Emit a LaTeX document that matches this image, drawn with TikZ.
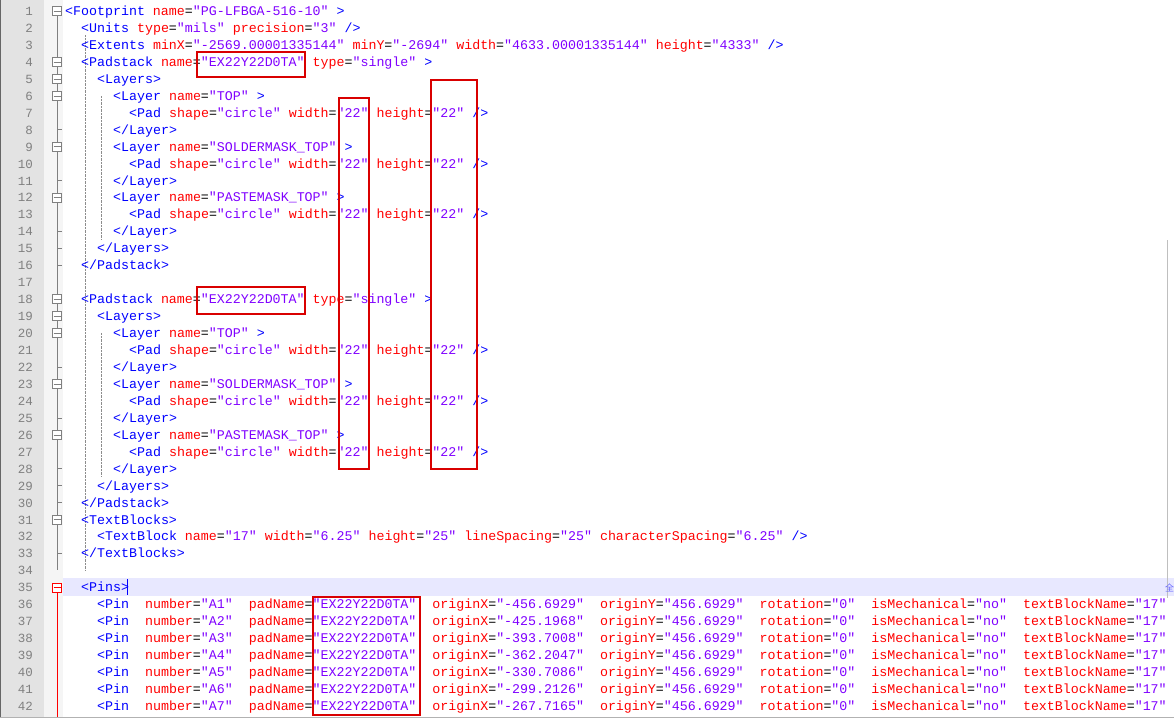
\documentclass[tikz,border=0pt]{standalone}
\usepackage{fontspec}
\newfontfamily\code{Liberation Mono}
\newfontfamily\cjk{Noto Sans CJK SC}
\definecolor{tagc}{RGB}{0,0,255}
\definecolor{attc}{RGB}{255,0,0}
\definecolor{valc}{RGB}{128,0,255}
\definecolor{numc}{RGB}{128,128,128}
\newcommand\tg[1]{\textcolor{tagc}{#1}}
\newcommand\at[1]{\textcolor{attc}{#1}}
\newcommand\vl[1]{\textcolor{valc}{#1}}
\newcommand\padline{\tg{<Pad} \at{shape}=\vl{"circle"} \at{width}=\vl{"22"} \at{height}=\vl{"22"} \tg{/>}}
\newcommand\pinline[2]{\tg{<Pin}~~\at{number}=\vl{"#1"}~~\at{padName}=\vl{"EX22Y22D0TA"}~~\at{originX}=\vl{"#2"}~~\at{originY}=\vl{"456.6929"}~~\at{rotation}=\vl{"0"}~~\at{isMechanical}=\vl{"no"}~~\at{textBlockName}=\vl{"17"}}
\begin{document}
\begin{tikzpicture}[x=1pt,y=-1pt,
  codetxt/.style={anchor=base west,inner sep=0pt,font=\code\fontsize{13.3}{16}\selectfont},
  lnum/.style={anchor=base east,inner sep=0pt,text=numc,font=\code\fontsize{12.5}{15}\selectfont},
  foldbox/.style={draw=numc,fill=white,minimum size=9pt,inner sep=0pt},
  redbox/.style={draw=red!85!black,line width=1.6pt}]
\useasboundingbox (0,0) rectangle (1174,718);
\fill[white] (0,0) rectangle (1174,718);
\fill[black!11] (0,0) rectangle (44,718);
\fill[black!4] (44,0) rectangle (63,718);
\draw[black!60,line width=1.5pt] (0.5,0) -- (0.5,718);
\fill[blue!9] (63,578) rectangle (1174,595.5);
\foreach \n in {1,...,42}{\node[lnum] at (33,{15.5+(\n-1)*16.95}) {\n};}
% fold lines
\draw[numc] (57,11) -- (57,570);
\draw[red] (57,590) -- (57,718);
\foreach \n in {8,11,14,15,16,22,25,28,29,30,33}{\draw[numc] (57,{11+(\n-1)*16.95}) -- (62,{11+(\n-1)*16.95});}
\foreach \n in {1,4,5,6,9,12,18,19,20,23,26,31}{
  \node[foldbox] (f\n) at (57,{11+(\n-1)*16.95}) {};
  \draw[numc] (53.5,{11+(\n-1)*16.95}) -- (60.5,{11+(\n-1)*16.95});}
\node[foldbox,draw=red] (f35) at (57,587.3) {};
\draw[red] (53.5,587.3) -- (60.5,587.3);
% indent guides
\draw[black!45,densely dotted] (101,96) -- (101,240);
\draw[black!45,densely dotted] (101,333) -- (101,477);
\draw[black!45,densely dotted] (85,35) -- (85,570);
% code
\node[codetxt] (l1) at (65,15.5) {\tg{<Footprint} \at{name}=\vl{"PG-LFBGA-516-10"} \tg{>}};
\node[codetxt] (l2) at (81,32.45) {\tg{<Units} \at{type}=\vl{"mils"} \at{precision}=\vl{"3"} \tg{/>}};
\node[codetxt] (l3) at (81,49.4) {\tg{<Extents} \at{minX}=\vl{"-2569.00001335144"} \at{minY}=\vl{"-2694"} \at{width}=\vl{"4633.00001335144"} \at{height}=\vl{"4333"} \tg{/>}};
\foreach \b in {0,14}{
\node[codetxt] at (81,{15.5+(3+\b)*16.95}) {\tg{<Padstack} \at{name}=\vl{"EX22Y22D0TA"} \at{type}=\vl{"single"} \tg{>}};
\node[codetxt] at (97,{15.5+(4+\b)*16.95}) {\tg{<Layers>}};
\node[codetxt] at (113,{15.5+(5+\b)*16.95}) {\tg{<Layer} \at{name}=\vl{"TOP"} \tg{>}};
\node[codetxt] at (129,{15.5+(6+\b)*16.95}) {\padline};
\node[codetxt] at (113,{15.5+(7+\b)*16.95}) {\tg{</Layer>}};
\node[codetxt] at (113,{15.5+(8+\b)*16.95}) {\tg{<Layer} \at{name}=\vl{"SOLDERMASK\_TOP"} \tg{>}};
\node[codetxt] at (129,{15.5+(9+\b)*16.95}) {\padline};
\node[codetxt] at (113,{15.5+(10+\b)*16.95}) {\tg{</Layer>}};
\node[codetxt] at (113,{15.5+(11+\b)*16.95}) {\tg{<Layer} \at{name}=\vl{"PASTEMASK\_TOP"} \tg{>}};
\node[codetxt] at (129,{15.5+(12+\b)*16.95}) {\padline};
\node[codetxt] at (113,{15.5+(13+\b)*16.95}) {\tg{</Layer>}};
\node[codetxt] at (97,{15.5+(14+\b)*16.95}) {\tg{</Layers>}};
\node[codetxt] at (81,{15.5+(15+\b)*16.95}) {\tg{</Padstack>}};
}
\node[codetxt] (l31) at (81,{15.5+30*16.95}) {\tg{<TextBlocks>}};
\node[codetxt] (l32) at (97,{15.5+31*16.95}) {\tg{<TextBlock} \at{name}=\vl{"17"} \at{width}=\vl{"6.25"} \at{height}=\vl{"25"} \at{lineSpacing}=\vl{"25"} \at{characterSpacing}=\vl{"6.25"} \tg{/>}};
\node[codetxt] (l33) at (81,{15.5+32*16.95}) {\tg{</TextBlocks>}};
\node[codetxt] (l35) at (81,{15.5+34*16.95}) {\tg{<Pins>}};
\draw[blue,line width=0.8pt] (127,579) -- (127,595);
\foreach \a/\x [count=\i from 35] in {A1/-456.6929,A2/-425.1968,A3/-393.7008,A4/-362.2047,A5/-330.7086,A6/-299.2126,A7/-267.7165}{
  \node[codetxt] at (97,{15.5+\i*16.95}) {\pinline{\a}{\x}};}
% red highlight boxes
\draw[redbox] (197,52) rectangle (305,77);
\draw[redbox] (197,287) rectangle (305,314);
\draw[redbox] (339,98) rectangle (369,469);
\draw[redbox] (431,80) rectangle (477,469);
\draw[redbox] (313,597) rectangle (420,715);
% right edge widget
\draw[black!25] (1167.5,240) -- (1167.5,598);
\node[inner sep=0pt,anchor=west,text=blue!60,font=\cjk\fontsize{9}{10}\selectfont] (w) at (1165,588) {全};
\draw[black!30] (0,717.5) -- (1174,717.5);
\end{tikzpicture}
\end{document}
